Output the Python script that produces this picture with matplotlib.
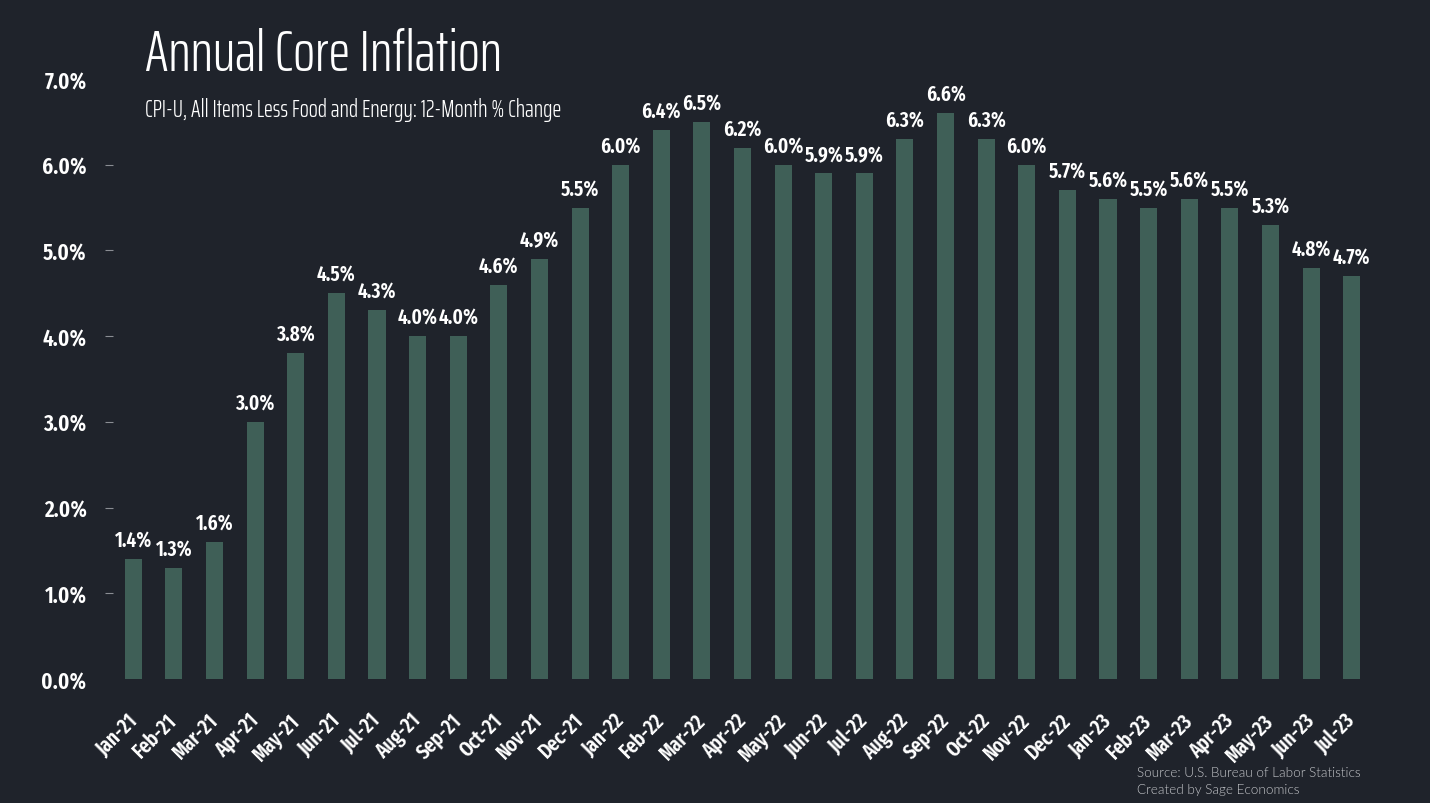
import matplotlib
matplotlib.use("Agg")
import matplotlib.pyplot as plt
from matplotlib.ticker import FuncFormatter

months = ["Jan-21","Feb-21","Mar-21","Apr-21","May-21","Jun-21","Jul-21","Aug-21","Sep-21",
          "Oct-21","Nov-21","Dec-21","Jan-22","Feb-22","Mar-22","Apr-22","May-22","Jun-22",
          "Jul-22","Aug-22","Sep-22","Oct-22","Nov-22","Dec-22","Jan-23","Feb-23","Mar-23",
          "Apr-23","May-23","Jun-23","Jul-23"]
values = [1.4, 1.3, 1.6, 3.0, 3.8, 4.5, 4.3, 4.0, 4.0, 4.6, 4.9, 5.5, 6.0, 6.4, 6.5, 6.2,
          6.0, 5.9, 5.9, 6.3, 6.6, 6.3, 6.0, 5.7, 5.6, 5.5, 5.6, 5.5, 5.3, 4.8, 4.7]
yticks = [0, 1, 2, 3, 4, 5, 6, 7]

title = "Annual Core Inflation"
subtitle = "CPI-U, All Items Less Food and Energy: 12-Month % Change"
source_lines = ["Source: U.S. Bureau of Labor Statistics", "Created by Sage Economics"]

BG = "#1f232b"
BAR = "#3f5f57"
COND = ["Fira Sans Extra Condensed", "DejaVu Sans"]
XCOND = ["Saira ExtraCondensed", "Fira Sans Extra Condensed", "DejaVu Sans"]
FOOT = ["Lato", "DejaVu Sans"]

W, H = 1430, 804
fig = plt.figure(figsize=(W/100, H/100), dpi=100, facecolor=BG)
ax = fig.add_axes([113/W, 1-680/H, (1372-113)/W, (680-80)/H], facecolor=BG)

x = list(range(len(months)))
ax.bar(x, values, width=0.42, color=BAR, zorder=2)
ax.set_xlim(-0.5, len(months)-0.5)
ax.set_ylim(0, 7)

for xi, v in zip(x, values):
    ax.annotate(f"{v:.1f}%", (xi, v), xytext=(0, 9), textcoords="offset points",
                ha="center", va="baseline", color="white", fontsize=15, fontweight=600,
                family=COND)

for s in ax.spines.values():
    s.set_visible(False)
ax.axhline(0, color="#2c3139", lw=0.8, zorder=1)

ax.set_yticks(yticks)
ax.yaxis.set_major_formatter(FuncFormatter(lambda v, p: f"{v:.1f}%"))
ax.tick_params(axis="y", length=6, width=0.8, color="#8a8d93", pad=13)
for lbl in ax.get_yticklabels():
    lbl.set_color("white"); lbl.set_fontsize(16.5); lbl.set_fontweight(600); lbl.set_family(COND)
ticks = ax.yaxis.get_major_ticks()
for t in (ticks[0], ticks[-1]):
    t.tick1line.set_visible(False)

ax.set_xticks(x)
ax.set_xticklabels(months, rotation=45, ha="right", va="center", rotation_mode="anchor")
ax.tick_params(axis="x", length=0, pad=27)
for lbl in ax.get_xticklabels():
    lbl.set_color("white"); lbl.set_fontsize(15); lbl.set_fontweight(600); lbl.set_family(COND)

t_title = fig.text(145/W, 1-71/H, title, color="white", fontsize=48, fontweight=300,
                   family=XCOND, va="baseline")
t_sub = fig.text(145/W, 1-117/H, subtitle, color="white", fontsize=18, fontweight=300,
                 family=XCOND, va="baseline")
t_f1 = fig.text(1137/W, 1-777/H, source_lines[0], color="#c4c6ca", fontsize=10, fontweight=300,
                family=FOOT, va="baseline")
t_f2 = fig.text(1137/W, 1-794/H, source_lines[1], color="#c4c6ca", fontsize=10, fontweight=300,
                family=FOOT, va="baseline")

# fit text widths to the reference layout
fig.canvas.draw()
r = fig.canvas.get_renderer()
for t, w in ((t_title, 357), (t_sub, 415), (t_f1, 223)):
    bb = t.get_window_extent(r)
    t.set_fontsize(t.get_fontsize() * w / bb.width)
t_f2.set_fontsize(t_f1.get_fontsize())

fig.savefig("out.png", dpi=100, facecolor=BG)
